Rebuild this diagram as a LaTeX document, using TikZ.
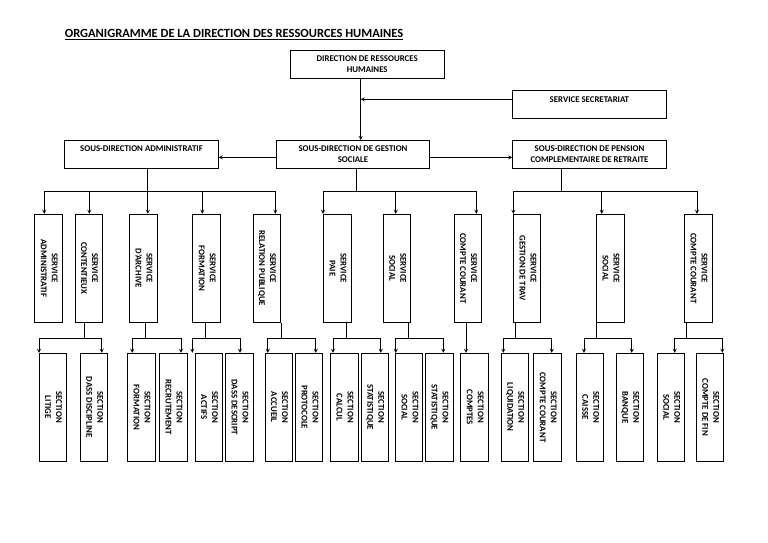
\documentclass[tikz,border=0pt]{standalone}
\usepackage{fontspec}
\setmainfont{Carlito}
\usepackage{graphicx}
\usepackage{tikz}
\usetikzlibrary{arrows,calc,arrows.meta}

\newcommand{\vlab}[2]{\rotatebox{-90}{\begin{tabular}{@{}c@{}}#1\\#2\end{tabular}}}

\tikzset{
  dirbox/.style={draw,line width=0.9pt,minimum width=153.5pt,minimum height=27.8pt,inner sep=0pt,align=center,font=\fontsize{8.8}{11}\selectfont\bfseries},
  svcbox/.style={draw,line width=0.9pt,minimum width=27.3pt,minimum height=108pt,inner sep=0pt,font=\fontsize{8.8}{11}\selectfont\bfseries},
  conn/.style={line width=0.8pt},
}

\begin{document}
\begin{tikzpicture}[x=1pt,y=-1pt,>=stealth]
  \useasboundingbox (0,0) rectangle (768,543);
  \node[anchor=base west,inner sep=0pt,font=\fontsize{12.5}{15}\selectfont\bfseries] (titre) at (64.6,37.7) {\underline{ORGANIGRAMME DE LA DIRECTION DES RESSOURCES HUMAINES}};

  % direction et sous-directions
  \node[dirbox] (drh) at (367.2,64.5) {DIRECTION DE RESSOURCES\\HUMAINES};
  \node[dirbox] (secr) at (589.4,104.8) {SERVICE SECRETARIAT\\\mbox{}};
  \node[dirbox] (sdadm) at (141.5,154.3) {SOUS-DIRECTION ADMINISTRATIF\\\mbox{}};
  \node[dirbox] (sdgest) at (353,154.3) {SOUS-DIRECTION DE GESTION\\SOCIALE};
  \node[dirbox] (sdpens) at (589.5,154.3) {SOUS-DIRECTION DE PENSION\\COMPLEMENTAIRE DE RETRAITE};

  \draw[conn,->] ([xshift=-6.5pt]drh.south) coordinate (d0) -- (d0 |- sdgest.north);
  \coordinate (s0) at ([yshift=5.5pt]secr.west);
  \draw[conn,->] (s0) -- (s0 -| d0);
  \draw[conn,->] ([yshift=-3pt]sdgest.west) -- ([yshift=-3pt]sdadm.east);
  \draw[conn,->] ([yshift=-3pt]sdgest.east) -- ([yshift=-3pt]sdpens.west);

  % services
  \node[svcbox] (svadm) at (48.5,268.3) {\vlab{SERVICE}{ADMINISTRATIF}};
  \node[svcbox] (svcont) at (88.8,268.3) {\vlab{SERVICE}{CONTENTIEUX}};
  \node[svcbox] (svarch) at (143.3,268.3) {\vlab{SERVICE}{D'ARCHIVE}};
  \node[svcbox] (svform) at (206.5,268.3) {\vlab{SERVICE}{FORMATION}};
  \node[svcbox] (svrel) at (266.8,268.3) {\vlab{SERVICE}{RELATION PUBLIQUE}};
  \node[svcbox] (svpaie) at (337.3,268.3) {\vlab{SERVICE}{PAIE}};
  \node[svcbox] (svsoc) at (397,268.3) {\vlab{SERVICE}{SOCIAL}};
  \node[svcbox] (svcpt) at (467.8,268.3) {\vlab{SERVICE}{COMPTE COURANT}};
  \node[svcbox] (svgtr) at (527.2,268.3) {\vlab{SERVICE}{GESTION DE TRAV}};
  \node[svcbox] (svsoc2) at (610.3,268.3) {\vlab{SERVICE}{SOCIAL}};
  \node[svcbox] (svcpt2) at (698.3,268.3) {\vlab{SERVICE}{COMPTE COURANT}};

  \draw[conn] ([xshift=6.3pt]sdadm.south) -- ++(0,22.4) coordinate (badm);
  \draw[conn,->] (badm) -| ([xshift=-4.2pt]svadm.north);
  \draw[conn,->] (badm) -| ([xshift=0.5pt]svcont.north);
  \draw[conn,->] (badm) -| ([xshift=4.5pt]svarch.north);
  \draw[conn,->] (badm) -| ([xshift=-4.2pt]svform.north);
  \draw[conn,->] (badm) -| ([xshift=8.5pt]svrel.north);

  \draw[conn] ([xshift=3.3pt]sdgest.south) -- ++(0,22.4) coordinate (bgest);
  \draw[conn,->] (bgest) -| ([xshift=-14.3pt]svpaie.north);
  \draw[conn,->] (bgest) -| ([xshift=-1.3pt]svsoc.north);
  \draw[conn,->] (bgest) -| ([xshift=8.5pt]svcpt.north);

  \draw[conn] ([xshift=-28.5pt]sdpens.south) -- ++(0,22.4) coordinate (bpens);
  \draw[conn,->] (bpens) -| ([xshift=-13.9pt]svgtr.north);
  \draw[conn,->] (bpens) -| ([xshift=-8.6pt]svsoc2.north);
  \draw[conn,->] (bpens) -| ([xshift=-1.3pt]svcpt2.north);

  % sections
  \node[svcbox] (sclit) at (52.8,407.3) {\vlab{SECTION}{LITIGE}};
  \node[svcbox] (scdisc) at (94,407.3) {\vlab{SECTION}{DASS DISCIPLINE}};
  \node[svcbox] (scform) at (141.3,407.3) {\vlab{SECTION}{FORMATION}};
  \node[svcbox] (screc) at (173.3,407.3) {\vlab{SECTION}{RECRUTEMENT}};
  \node[svcbox] (scact) at (208.8,407.3) {\vlab{SECTION}{ACTIFS}};
  \node[svcbox] (scdesc) at (239.3,407.3) {\vlab{SECTION}{DASS DESCRIPT}};
  \node[svcbox] (scacc) at (278.7,407.3) {\vlab{SECTION}{ACCUEIL}};
  \node[svcbox] (scprot) at (309.2,407.3) {\vlab{SECTION}{PROTOCOLE}};
  \node[svcbox] (sccalc) at (344.3,407.3) {\vlab{SECTION}{CALCUL}};
  \node[svcbox] (scstat) at (375,407.3) {\vlab{SECTION}{STATISTIQUE}};
  \node[svcbox] (scsoc) at (409.2,407.3) {\vlab{SECTION}{SOCIAL}};
  \node[svcbox] (scstat2) at (439.3,407.3) {\vlab{SECTION}{STATISTIQUE}};
  \node[svcbox] (sccpt) at (474.5,407.3) {\vlab{SECTION}{COMPTES}};
  \node[svcbox] (scliq) at (515,407.3) {\vlab{SECTION}{LIQUIDATION}};
  \node[svcbox] (sccour) at (547.5,407.3) {\vlab{SECTION}{COMPTE COURANT}};
  \node[svcbox] (sccais) at (590,407.3) {\vlab{SECTION}{CAISSE}};
  \node[svcbox] (scbanq) at (630,407.3) {\vlab{SECTION}{BANQUE}};
  \node[svcbox] (scsoc2) at (671,407.3) {\vlab{SECTION}{SOCIAL}};
  \node[svcbox] (scfin) at (710,407.3) {\vlab{SECTION}{COMPTE DE FIN}};

  \draw[conn] ([xshift=-4.5pt]svcont.south) -- ++(0,16) coordinate (bcont);
  \draw[conn,->] (bcont) -| ([xshift=-13.8pt]sclit.north);
  \draw[conn,->] (bcont) -| ([xshift=7.7pt]scdisc.north);

  \draw[conn] ([xshift=1.7pt]svarch.south) -- ++(0,16) coordinate (barch);
  \draw[conn,->] (barch) -| ([xshift=-9pt]scform.north);
  \draw[conn,->] (barch) -| ([xshift=7.7pt]screc.north);

  \draw[conn] ([xshift=-0.8pt]svform.south) -- ++(0,16) coordinate (bform);
  \draw[conn,->] (bform) -| ([xshift=-16.5pt]scact.north);
  \draw[conn,->] (bform) -| ([xshift=0.7pt]scdesc.north);

  \draw[conn] (svrel.south east) -- ++(0,16) coordinate (brel);
  \draw[conn,->] (brel) -| ([xshift=-11pt]scacc.north);
  \draw[conn,->] (brel) -| ([xshift=6.5pt]scprot.north);

  \draw[conn] ([xshift=9pt]svpaie.south) -- ++(0,16) coordinate (bpaie);
  \draw[conn,->] (bpaie) -| ([xshift=-11.3pt]sccalc.north);
  \draw[conn,->] (bpaie) -| ([xshift=5.7pt]scstat.north);

  \draw[conn] ([xshift=11.7pt]svsoc.south) -- ++(0,16) coordinate (bsoc);
  \draw[conn,->] (bsoc) -| ([xshift=-13.5pt]scsoc.north);
  \draw[conn,->] (bsoc) -| ([xshift=4pt]scstat2.north);

  \draw[conn,->] ([xshift=-1.8pt]svcpt.south) coordinate (bcpt) -- (bcpt |- sccpt.north);

  \draw[conn] ([xshift=-12pt]svgtr.south) -- ++(0,16) coordinate (bgtr);
  \draw[conn,->] (bgtr) -| ([xshift=-11.7pt]scliq.north);
  \draw[conn,->] (bgtr) -| ([xshift=4.2pt]sccour.north);

  \draw[conn] ([xshift=-13.6pt]svsoc2.south) -- ++(0,16) coordinate (bsoc2);
  \draw[conn,->] (bsoc2) -| ([xshift=-6pt]sccais.north);
  \draw[conn,->] (bsoc2) -| ([xshift=1.7pt]scbanq.north);

  \draw[conn] ([xshift=-11.6pt]svcpt2.south) -- ++(0,16) coordinate (bcpt2);
  \draw[conn,->] (bcpt2) -| ([xshift=3.7pt]scsoc2.north);
  \draw[conn,->] (bcpt2) -| ([xshift=12.3pt]scfin.north);
\end{tikzpicture}
\end{document}
